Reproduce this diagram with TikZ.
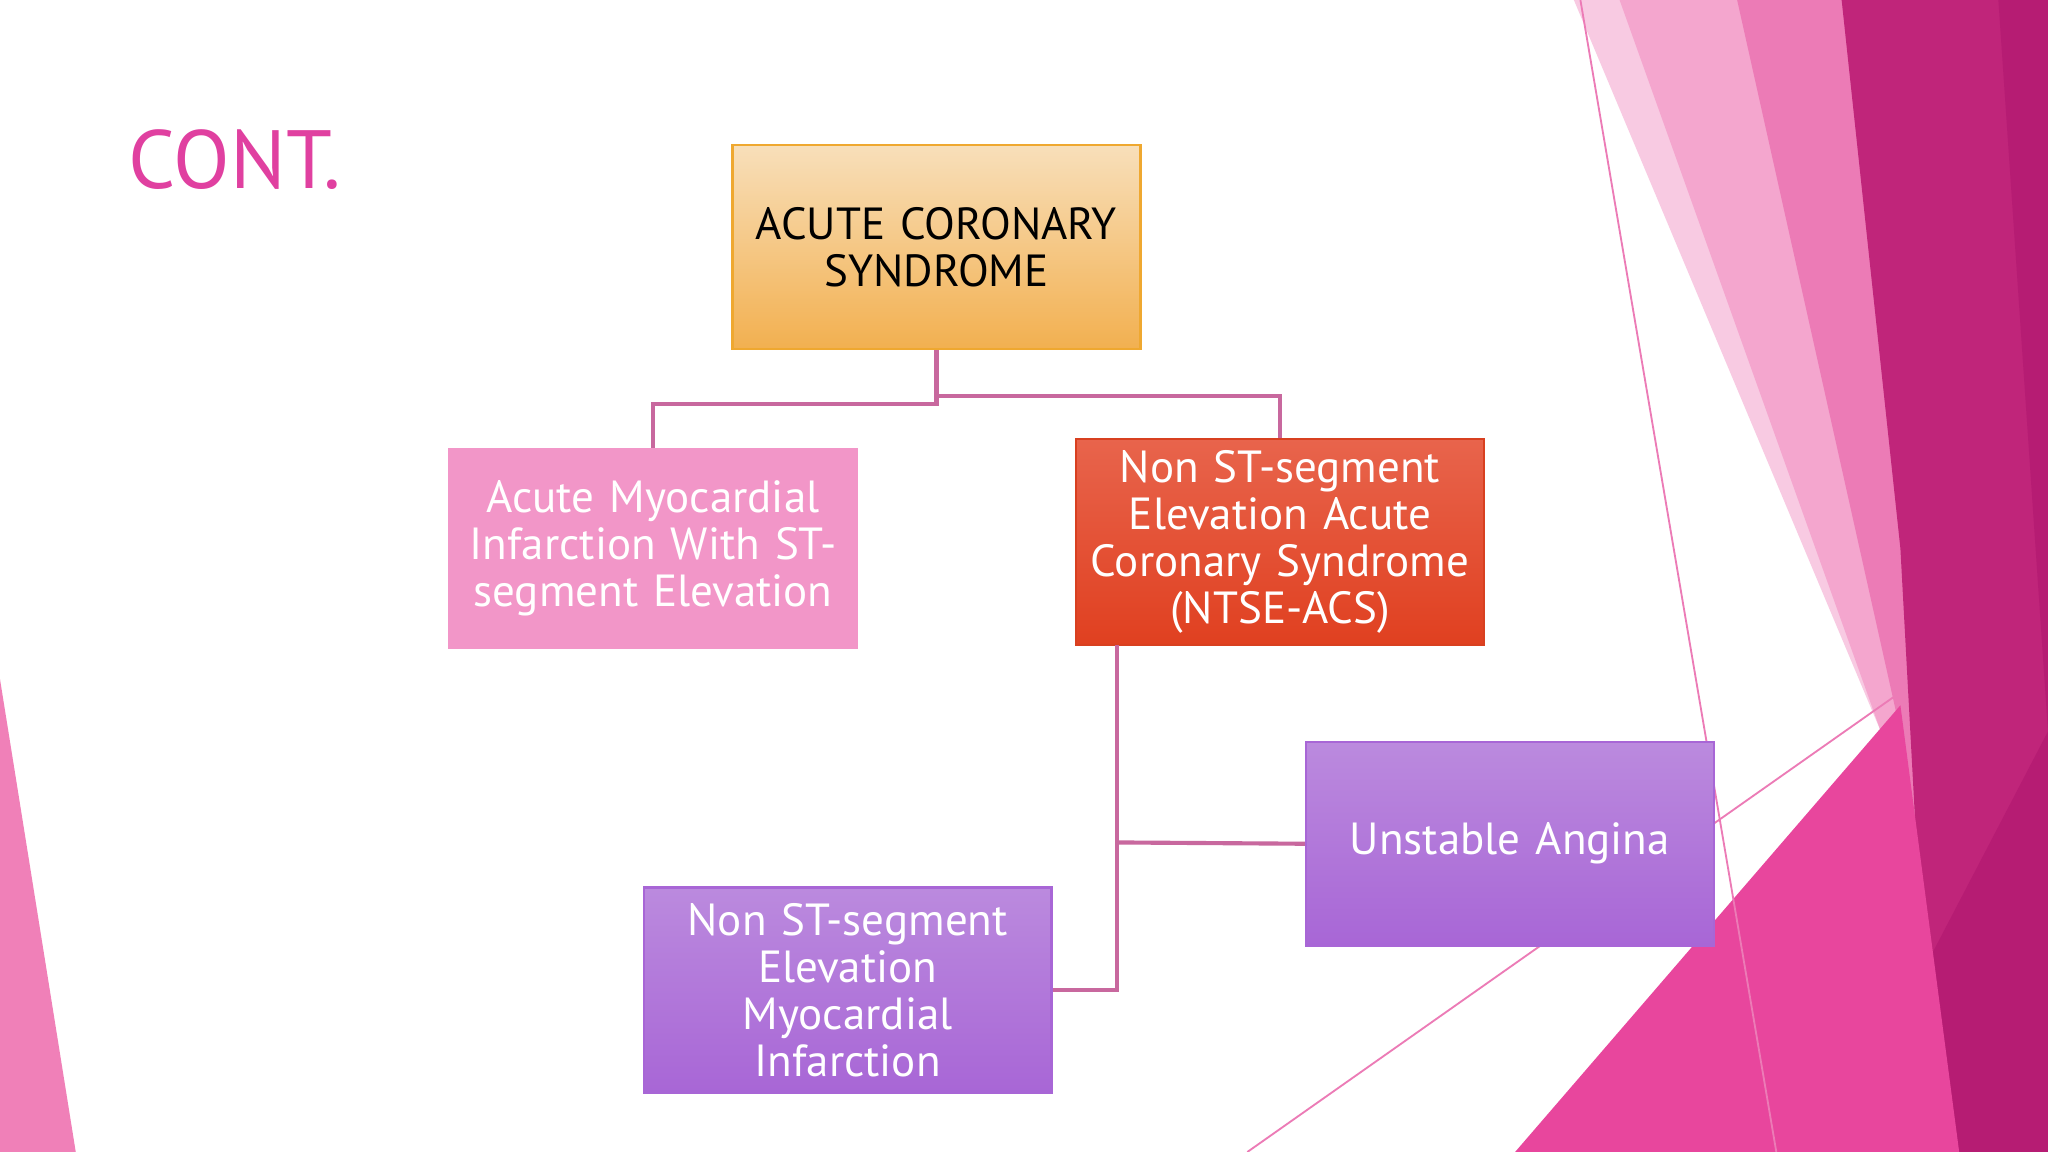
\documentclass[tikz,border=0pt]{standalone}
\usepackage{fontspec}
\setmainfont{PT Sans}
\definecolor{c_line}{HTML}{C8689E}
\definecolor{pA}{HTML}{F4A6CE}
\definecolor{pB}{HTML}{EC7BB6}
\definecolor{pC}{HTML}{C0257A}
\definecolor{pD}{HTML}{B61C73}
\definecolor{pE}{HTML}{E8469D}
\definecolor{pF}{HTML}{F080B8}
\definecolor{ttl}{HTML}{E040A0}
\definecolor{orB}{HTML}{EFA830}
\definecolor{orT}{HTML}{F8DFBA}
\definecolor{orM}{HTML}{F2B050}
\definecolor{pk}{HTML}{F296C8}
\definecolor{rdB}{HTML}{D84020}
\definecolor{rdT}{HTML}{E8644C}
\definecolor{rdM}{HTML}{E04020}
\definecolor{puT}{HTML}{BB8ADE}
\definecolor{puM}{HTML}{A866D6}
\begin{document}
\begin{tikzpicture}[x=0.01cm,y=-0.01cm,
  box/.style={draw=#1,line width=0.5pt,minimum width=3.12cm,minimum height=1.56cm,text width=3.1cm,align=center,font=\fontsize{9.8}{10.2}\selectfont,inner sep=0pt},
  conn/.style={draw=c_line,line width=0.9pt}]
\useasboundingbox (0,0) rectangle (1568,882);
\fill[white] (0,0) rectangle (1568,882);
% background shapes
\fill[pA!60] (1205,0)--(1568,0)--(1568,882)--(1340,882)--(1440,560)--cycle;
\fill[pA] (1240,0)--(1568,0)--(1568,882)--(1200,882)--(1440,560)--cycle;
\fill[pB] (1330,0)--(1450,0)--(1480,882)--(1250,882)--(1455,560)--cycle;
\fill[pC] (1410,0)--(1568,0)--(1568,882)--(1480,882)--(1455,420)--cycle;
\fill[pD] (1530,0)--(1568,0)--(1568,882)--(1400,882)--(1568,560)--cycle;
\fill[pE] (1160,882)--(1455,540)--(1500,882)--cycle;
\fill[pF] (0,520)--(58,882)--(0,882)--cycle;
\draw[pB,line width=0.4pt] (1210,0)--(1360,882);
\draw[pB,line width=0.4pt] (955,882)--(1455,530);
% title
\node[anchor=west,text=ttl,font=\fontsize{18}{20}\selectfont,inner sep=0pt] (title) at (98,122) {CONT.};
% boxes
\node[box=orB,top color=orT,bottom color=orM] (acs) at (717,189) {ACUTE CORONARY\\SYNDROME};
\node[box=pk,fill=pk,text=white,minimum height=1.52cm] (ami) at (500,420) {Acute Myocardial\\Infarction With ST-\\segment Elevation};
\node[box=rdB,top color=rdT,bottom color=rdM,text=white,minimum height=1.58cm] (nste) at (980,415) {Non ST-segment\\Elevation Acute\\Coronary Syndrome\\(NTSE-ACS)};
\node[box=puM,top color=puT,bottom color=puM,text=white] (ua) at (1156,646) {Unstable Angina};
\node[box=puM,top color=puT,bottom color=puM,text=white,minimum height=1.57cm] (nstemi) at (649,758) {Non ST-segment\\Elevation\\Myocardial\\Infarction};
% connectors
\coordinate (j1) at (717,309);
\coordinate (j2) at (717,303);
\draw[conn] (acs.south) -- (j1) -| (ami.north);
\draw[conn] (j2) -| (nste.north);
\coordinate (n0) at (855,494);
\coordinate (n1) at (855,645);
\draw[conn] (n0) |- (nstemi.east);
\draw[conn] (n1) -- (ua.west);
\end{tikzpicture}
\end{document}
